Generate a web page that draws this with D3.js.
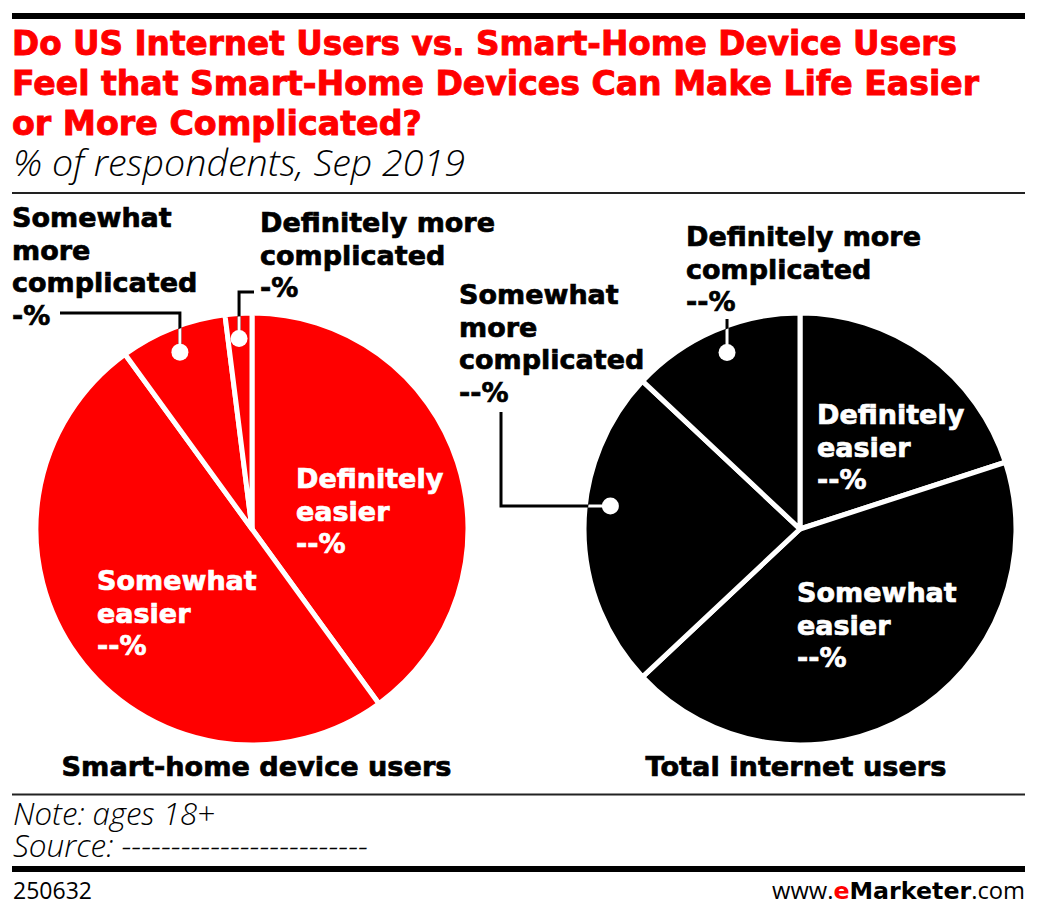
<!DOCTYPE html>
<html>
<head>
<meta charset="utf-8">
<script src="https://cdn.jsdelivr.net/npm/d3@7"></script>
<style>
  body { margin: 0; background: #fff; }
  svg { display: block; }
</style>
</head>
<body>
<div id="chart"></div>
<script>
// data
const categories = ["Definitely easier", "Somewhat easier", "Somewhat more complicated", "Definitely more complicated"];
const smartHomeValues = [40, 50, 8, 2];
const internetValues = [20, 43, 24, 13];
const smartHomeLabels = ["--%", "--%", "-%", "-%"];
const internetLabels = ["--%", "--%", "--%", "--%"];
const pieTitles = ["Smart-home device users", "Total internet users"];

const width = 1038, height = 918;
const RED = "#ff0000";
const boldFont = "'DejaVu Sans', sans-serif";
const lightFont = "'Open Sans', 'Noto Sans', sans-serif";

const svg = d3.select("#chart")
  .append("svg")
  .attr("width", width)
  .attr("height", height);

// scale a text's font size so it spans the wanted width
function fit(sel, target) {
  const len = sel.node().getComputedTextLength();
  const fs = parseFloat(sel.attr("font-size"));
  sel.attr("font-size", (fs * target / len).toFixed(2));
  return sel;
}

// stretch a text vertically (about its baseline) to reach a cap height
function stretch(sel, x, y, capTarget) {
  const fs = parseFloat(sel.attr("font-size"));
  const k = capTarget / (0.729 * fs);
  sel.attr("x", 0).attr("y", 0)
    .attr("transform", "translate(" + x + "," + y + ") scale(1," + k.toFixed(3) + ")");
  return sel;
}

// rules
svg.append("rect").attr("x", 12).attr("y", 13).attr("width", 1013).attr("height", 6).attr("fill", "#000");
svg.append("line").attr("x1", 12).attr("x2", 1025).attr("y1", 193).attr("y2", 193).attr("stroke", "#222").attr("stroke-width", 2);
svg.append("line").attr("x1", 12).attr("x2", 1025).attr("y1", 794.5).attr("y2", 794.5).attr("stroke", "#222").attr("stroke-width", 2);
svg.append("rect").attr("x", 12).attr("y", 866).attr("width", 1013).attr("height", 6).attr("fill", "#000");

// title
const titleLines = [
  ["Do US Internet Users vs. Smart-Home Device Users", 55, 946],
  ["Feel that Smart-Home Devices Can Make Life Easier", 95, 968],
  ["or More Complicated?", 134.5, 411]
];
titleLines.forEach(t => {
  const el = svg.append("text")
    .attr("x", 12).attr("y", t[1])
    .attr("font-family", boldFont).attr("font-weight", "bold")
    .attr("font-size", 34).attr("fill", RED)
    .attr("stroke", RED).attr("stroke-width", 0.9)
    .text(t[0]);
  fit(el, t[2] - 1);
  stretch(el, 12, t[1], 25);
});

fit(svg.append("text")
  .attr("x", 13).attr("y", 176)
  .attr("font-family", lightFont).attr("font-style", "italic").attr("font-weight", 300)
  .attr("font-size", 32).attr("fill", "#000")
  .text("% of respondents, Sep 2019"), 452);

// pies
const pie = d3.pie().sort(null).value(d => d);
const radius = 216;
const arc = d3.arc().innerRadius(0).outerRadius(radius);

const pies = [
  {
    values: smartHomeValues, labels: smartHomeLabels, cx: 252, cy: 529, fill: RED, title: pieTitles[0], titleW: 390,
    inside: [{ i: 0, dx: 44, dy: -41 }, { i: 1, dx: -155, dy: 61 }],
    callouts: [
      { i: 2, t: 0.48, x: 12, y: 227, lines: ["Somewhat", "more", "complicated"], path: "up-left", bendY: 313, endX: 60 },
      { i: 3, t: 0.46, x: 260, y: 232, lines: ["Definitely more", "complicated"], path: "up-right", bendY: 292, endX: 254 }
    ]
  },
  {
    values: internetValues, labels: internetLabels, cx: 800, cy: 529, fill: "#000", title: pieTitles[1], titleW: 301,
    inside: [{ i: 0, dx: 17, dy: -105 }, { i: 1, dx: -3, dy: 73 }],
    callouts: [
      { i: 3, t: 0.52, x: 686, y: 246, lines: ["Definitely more", "complicated"], path: "up", endY: 319 },
      { i: 2, t: 0.58, x: 459, y: 304, lines: ["Somewhat", "more", "complicated"], path: "left-up", bendX: 501, endY: 412 }
    ]
  }
];

const lineH = 32.6;

pies.forEach(p => {
  const arcs = pie(p.values);
  const g = svg.append("g").attr("transform", "translate(" + p.cx + "," + p.cy + ")");

  g.selectAll("path")
    .data(arcs)
    .enter()
    .append("path")
    .attr("d", arc)
    .attr("fill", p.fill)
    .attr("stroke", "#fff")
    .attr("stroke-width", 5)
    .attr("stroke-linejoin", "round");

  // labels inside slices
  p.inside.forEach(o => {
    const words = categories[o.i].split(" ");
    const t = g.append("text")
      .attr("font-family", boldFont).attr("font-weight", "bold")
      .attr("font-size", 27).attr("fill", "#fff")
      .attr("stroke", "#fff").attr("stroke-width", 0.7);
    words.concat([p.labels[o.i]]).forEach((w, k) => {
      t.append("tspan").attr("x", o.dx).attr("y", o.dy + k * lineH).text(w);
    });
  });

  svg.append("clipPath").attr("id", "clip" + p.cx)
    .append("circle").attr("cx", p.cx).attr("cy", p.cy).attr("r", radius - 3);

  // callouts for the small slices
  p.callouts.forEach(c => {
    const a = arcs[c.i];
    const ang = a.startAngle + c.t * (a.endAngle - a.startAngle);
    const r = 191;
    const dx = p.cx + r * Math.sin(ang), dy = p.cy - r * Math.cos(ang);

    let pts;
    if (c.path === "up-left" || c.path === "up-right") pts = [[dx, dy], [dx, c.bendY], [c.endX, c.bendY]];
    else if (c.path === "up") pts = [[dx, dy], [dx, c.endY]];
    else pts = [[dx, dy], [c.bendX, dy], [c.bendX, c.endY]];

    // the part inside the slice is white, outside is black
    svg.append("path")
      .attr("d", d3.line()(pts))
      .attr("fill", "none")
      .attr("stroke", "#000")
      .attr("stroke-width", 3);
    svg.append("path")
      .attr("d", d3.line()(pts))
      .attr("fill", "none")
      .attr("stroke", "#fff")
      .attr("stroke-width", 3)
      .attr("clip-path", "url(#clip" + p.cx + ")");
    svg.append("circle")
      .attr("cx", dx).attr("cy", dy).attr("r", 8.5)
      .attr("fill", "#fff");

    const t = svg.append("text")
      .attr("font-family", boldFont).attr("font-weight", "bold")
      .attr("font-size", 27).attr("fill", "#000")
      .attr("stroke", "#000").attr("stroke-width", 0.7);
    c.lines.concat([p.labels[c.i]]).forEach((w, k) => {
      t.append("tspan").attr("x", c.x).attr("y", c.y + k * lineH).text(w);
    });
  });

  fit(svg.append("text")
    .attr("x", p.cx + (p.cx < 500 ? 4.5 : -4)).attr("y", 776)
    .attr("text-anchor", "middle")
    .attr("font-family", boldFont).attr("font-weight", "bold")
    .attr("font-size", 26).attr("fill", "#000")
    .attr("stroke", "#000").attr("stroke-width", 0.7)
    .text(p.title), p.titleW);
});

// notes
fit(svg.append("text")
  .attr("x", 13).attr("y", 825)
  .attr("font-family", lightFont).attr("font-style", "italic").attr("font-weight", 300)
  .attr("font-size", 27).attr("fill", "#000")
  .text("Note: ages 18+"), 202);
fit(svg.append("text")
  .attr("x", 13).attr("y", 857)
  .attr("font-family", lightFont).attr("font-style", "italic").attr("font-weight", 300)
  .attr("font-size", 27).attr("fill", "#000")
  .text("Source: -------------------------"), 355);

fit(svg.append("text")
  .attr("x", 13).attr("y", 899)
  .attr("font-family", lightFont)
  .attr("font-size", 22).attr("fill", "#000")
  .text("250632"), 79);

const brand = svg.append("text")
  .attr("x", 1025).attr("y", 899)
  .attr("text-anchor", "end")
  .attr("font-family", lightFont)
  .attr("font-size", 24).attr("fill", "#000");
brand.append("tspan").text("www.");
brand.append("tspan").attr("fill", RED).attr("font-weight", "bold").attr("font-family", boldFont).text("e");
brand.append("tspan").attr("font-weight", "bold").attr("font-family", boldFont).text("Marketer");
brand.append("tspan").text(".com");
fit(brand, 253);
</script>
</body>
</html>
